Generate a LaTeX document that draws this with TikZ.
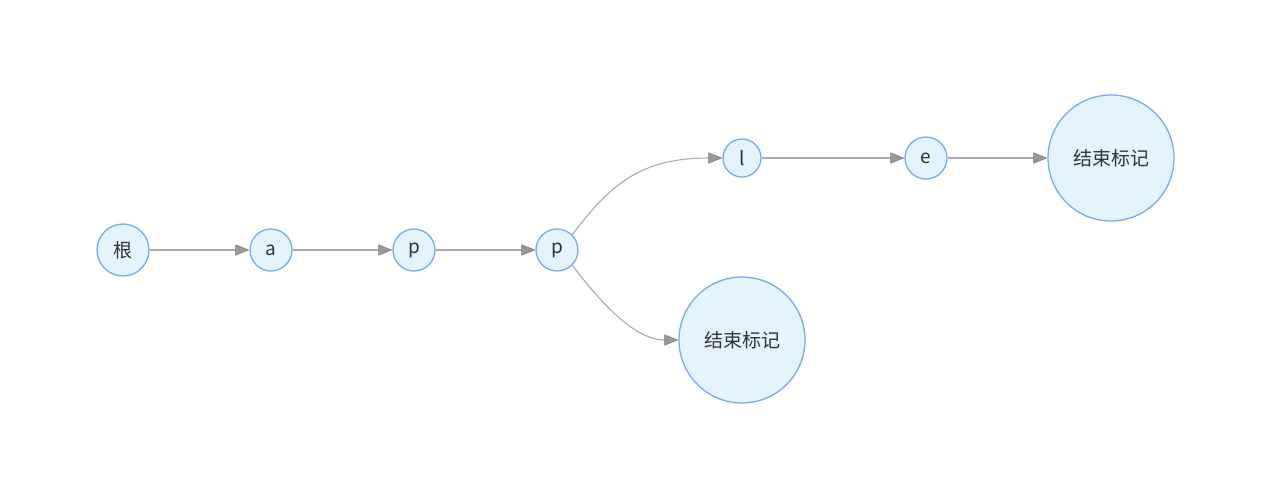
\documentclass[tikz,border=0pt]{standalone}
\usepackage{fontspec}
\setmainfont{Noto Sans CJK SC}
\usetikzlibrary{arrows.meta}
\definecolor{nfill}{HTML}{E3F4FD}
\definecolor{ndraw}{HTML}{7AA8F8}
\definecolor{edge}{HTML}{AAAAAA}
\definecolor{tip}{HTML}{999999}
\definecolor{txt}{HTML}{333333}
\begin{document}
\begin{tikzpicture}[x=1pt,y=-1pt,
  nd/.style={circle,fill=nfill,draw=ndraw,line width=1.3pt,text=txt,font=\fontsize{19}{22}\selectfont,inner sep=0pt},
  ed/.style={draw=edge,line width=1.1pt,-{Triangle[length=14pt,width=11pt,fill=tip,color=tip!80!black,line width=0.6pt]}}]
\useasboundingbox (0,0) rectangle (1270,499);
\node[nd,minimum size=52pt] (r) at (123,250) {根};
\node[nd,minimum size=42pt] (a) at (271,250) {a};
\node[nd,minimum size=42pt] (p1) at (414,250) {p};
\node[nd,minimum size=42pt] (p2) at (557,250) {p};
\node[nd,minimum size=38pt] (l) at (742,158) {l};
\node[nd,minimum size=42pt] (e) at (926,158) {e};
\node[nd,minimum size=126pt] (end1) at (1111,158) {结束标记};
\node[nd,minimum size=126pt] (end2) at (742,340) {结束标记};
\draw[ed] (r) -- (a);
\draw[ed] (a) -- (p1);
\draw[ed] (p1) -- (p2);
\draw[ed] (p2.north east) .. controls (610,185) and (640,158) .. (l.west);
\draw[ed] (p2.south east) .. controls (610,315) and (640,340) .. (end2.west);
\draw[ed] (l) -- (e);
\draw[ed] (e) -- (end1);
\end{tikzpicture}
\end{document}
